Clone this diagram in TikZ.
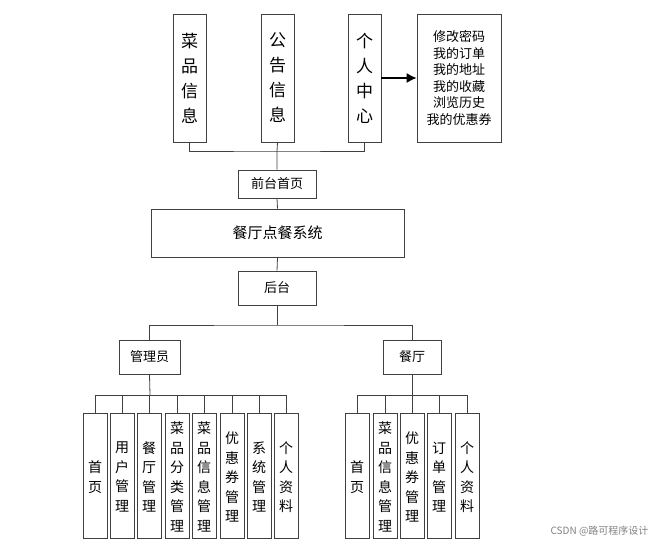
\documentclass[tikz,border=0pt]{standalone}
\usepackage{fontspec}
\setmainfont{Noto Sans CJK SC}
\usetikzlibrary{arrows.meta}
\begin{document}
\begin{tikzpicture}[x=1pt,y=-1pt,
  bx/.style={draw=black!75,line width=0.8pt,inner sep=0pt,align=center,font=\fontsize{13}{15}\selectfont},
  ln/.style={draw=black!75,line width=0.8pt}]
\useasboundingbox (0,0) rectangle (656,545);
\newcommand{\mkbox}[5]{\node[bx,minimum width=#3-#1,minimum height=#4-#2] (#5) at ({(#1+#3)/2},{(#2+#4)/2}) {};}
% top
\mkbox{173}{14}{206}{142}{t1}
\mkbox{261}{14}{294}{142}{t2}
\mkbox{348}{14}{381}{142}{t3}
\mkbox{417}{14}{501}{142}{t4}
\node[font=\fontsize{17}{25}\selectfont,align=center] at (t1) {菜\\品\\信\\息};
\node[font=\fontsize{17}{25}\selectfont,align=center] at (t2) {公\\告\\信\\息};
\node[font=\fontsize{17}{25}\selectfont,align=center] at (t3) {个\\人\\中\\心};
\node[font=\fontsize{13}{16.5}\selectfont,align=center] at (t4) {修改密码\\我的订单\\我的地址\\我的收藏\\浏览历史\\我的优惠券};
\draw[black,line width=1.3pt,-{Latex[length=10pt,width=10pt]}] (t3.east) -- (t4.west);
\mkbox{238}{170}{316}{198}{qt}
\node[font=\fontsize{13}{15}\selectfont] at (qt) {前台首页};
\mkbox{151}{209}{404}{257}{sys}
\node[font=\fontsize{15}{17}\selectfont] at (sys) {餐厅点餐系统};
\mkbox{238}{271}{316}{305}{ht}
\node[font=\fontsize{13}{15}\selectfont] at (ht) {后台};
\coordinate (jt) at (277,151);
\draw[ln] (t1.south) |- (jt) -| (t3.south);
\draw[ln] (t2.south) -- (jt) -- (qt.north);
\draw[ln] (qt.south) -- (sys.north);
\draw[ln] (sys.south) -- (ht.north);
\mkbox{119}{340}{180}{374}{gly}
\node[font=\fontsize{13}{15}\selectfont] at (gly) {管理员};
\mkbox{383}{340}{441}{374}{ct}
\node[font=\fontsize{13}{15}\selectfont] at (ct) {餐厅};
\coordinate (jh) at (277,325);
\draw[ln] (ht.south) -- (jh);
\draw[ln] (gly.north) |- (jh) -| (ct.north);
% bottom left
\foreach \i/\x/\t in {1/83/{首\\页},2/110/{用\\户\\管\\理},3/137/{餐\\厅\\管\\理},4/165/{菜\\品\\分\\类\\管\\理},5/192/{菜\\品\\信\\息\\管\\理},6/220/{优\\惠\\券\\管\\理},7/247/{系\\统\\管\\理},8/274/{个\\人\\资\\料}}{
  \node[bx,minimum width=24,minimum height=125] (a\i) at (\x+12,475.5) {};
  \node[font=\fontsize{14}{19.5}\selectfont,align=center] at (\x+12,477) {\t};
  \draw[ln] (a\i.north) -- (\x+12,395);
}
\draw[ln] (95,395) -- (286,395);
\draw[ln] (gly.south) -- (150,395);
\foreach \i/\x/\t in {1/345/{首\\页},2/373/{菜\\品\\信\\息\\管\\理},3/400/{优\\惠\\券\\管\\理},4/427/{订\\单\\管\\理},5/455/{个\\人\\资\\料}}{
  \node[bx,minimum width=24,minimum height=125] (b\i) at (\x+12,475.5) {};
  \node[font=\fontsize{14}{19.5}\selectfont,align=center] at (\x+12,477) {\t};
  \draw[ln] (b\i.north) -- (\x+12,395);
}
\draw[ln] (357,395) -- (467,395);
\draw[ln] (ct.south) -- (412,395);
\node[font=\fontsize{10}{12}\selectfont,text=black!50,anchor=east] at (652,531) {CSDN @路可程序设计};
\end{tikzpicture}
\end{document}
